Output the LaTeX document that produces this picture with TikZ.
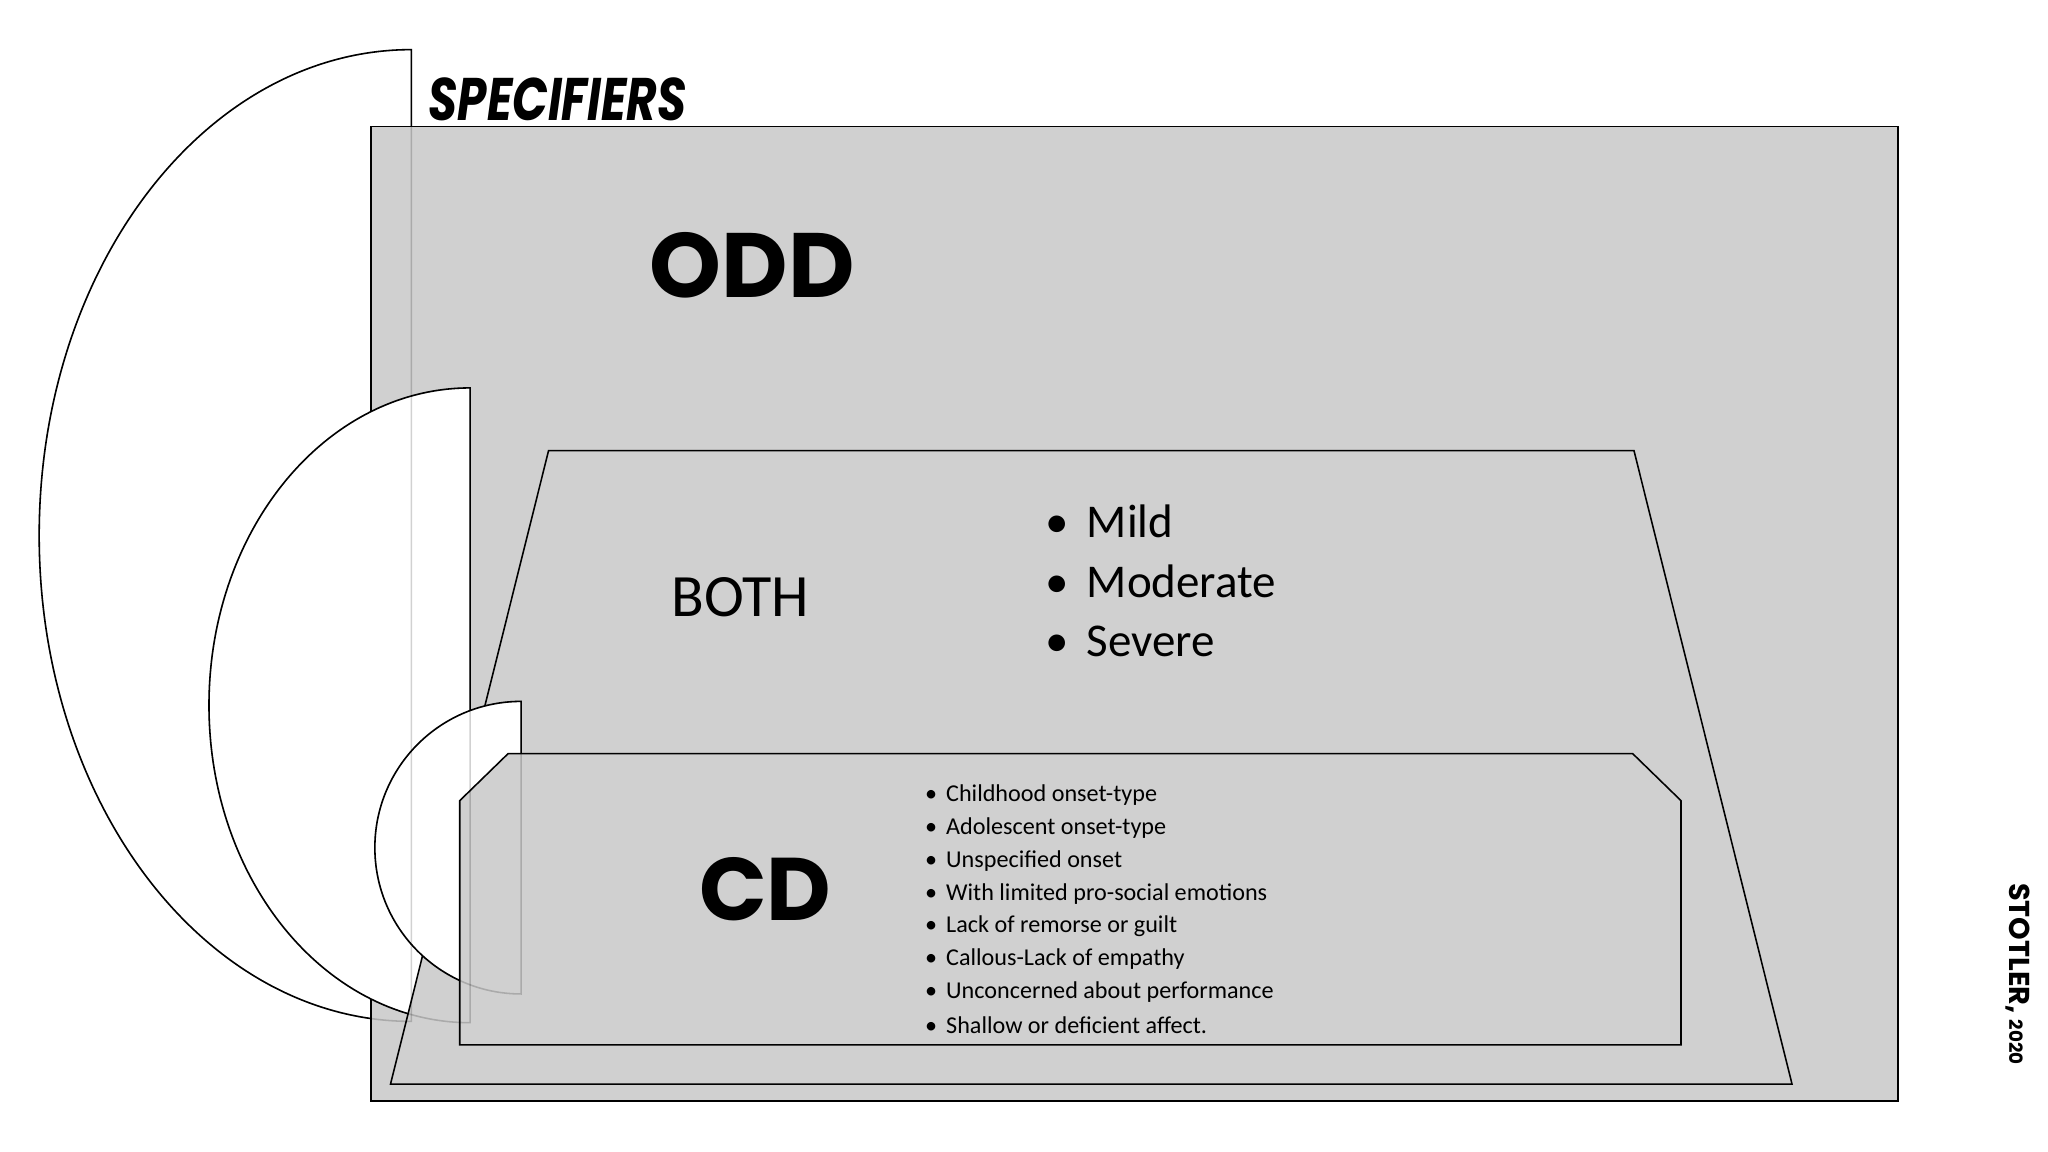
\documentclass[tikz,border=0pt]{standalone}
\usepackage{fontspec}
\setmainfont{Carlito}
\newfontfamily\head{Poppins}
\definecolor{boxgray}{HTML}{D0D0D0}
\begin{document}
\begin{tikzpicture}[x=1pt,y=-1pt,
  dshape/.style={draw=black,line width=1.2pt,fill=white},
  gshape/.style={draw=black,line width=1.2pt,fill=boxgray},
  ghost/.style={draw=black,line width=1.2pt,draw opacity=0.18},
  bl/.style={anchor=west,inner sep=0pt,font=\fontsize{36}{40}\selectfont},
  sl/.style={anchor=west,inner sep=0pt,font=\fontsize{18.5}{20}\selectfont}]
\useasboundingbox (0,0) rectangle (1568,882);
% big D
\path[dshape] (315,38) arc[start angle=270,end angle=90,x radius=285,y radius=372] -- cycle;
% outer rect
\path[gshape] (284,97) rectangle (1453,843);
% medium D
\path[dshape] (360,297) arc[start angle=270,end angle=90,x radius=200,y radius=243] -- cycle;
% trapezoid
\path[gshape] (420,345) -- (1251,345) -- (1372,830) -- (299,830) -- cycle;
% small D
\path[dshape] (399,537) arc[start angle=270,end angle=90,x radius=112,y radius=112] -- cycle;
% CD box
\path[gshape] (352,613) -- (389,577) -- (1250,577) -- (1287,613) -- (1287,800) -- (352,800) -- cycle;
% ghost outlines
\path[ghost] (315,38) arc[start angle=270,end angle=90,x radius=285,y radius=372] -- cycle;
\path[ghost] (360,297) arc[start angle=270,end angle=90,x radius=200,y radius=243] -- cycle;
\path[ghost] (399,537) arc[start angle=270,end angle=90,x radius=112,y radius=112] -- cycle;
% texts
\node (spec) [anchor=west,inner sep=0pt] at (328,76) {\scalebox{0.78}[1]{\head\bfseries\itshape\fontsize{46}{50}\selectfont SPECIFIERS}};
\node (odd) [inner sep=0pt] at (576,203) {\head\bfseries\fontsize{70}{74}\selectfont ODD};
\node (both) [inner sep=0pt] at (567,457) {\fontsize{46}{50}\selectfont BOTH};
\node (cd) [inner sep=0pt] at (586,681) {\head\bfseries\fontsize{68}{72}\selectfont CD};
\node (m1) [bl] at (800,399) {•\hspace{14pt}Mild};
\node (m2) [bl] at (800,445) {•\hspace{14pt}Moderate};
\node (m3) [bl] at (800,491) {•\hspace{14pt}Severe};
\foreach \t [count=\i from 0] in {Childhood onset-type,Adolescent onset-type,Unspecified onset,With limited pro-social emotions,Lack of remorse or guilt,Callous-Lack of empathy,Unconcerned about performance,Shallow or deficient affect.}
  \node (s\i) [sl] at (708,{609+25.1*\i}) {•\hspace{7pt}\t};
\node (stot) [rotate=-90,anchor=west,inner sep=0pt] at (1545,676) {\head\bfseries\fontsize{22}{24}\selectfont STOTLER, {\fontsize{14}{16}\selectfont 2020}};
\end{tikzpicture}
\end{document}
